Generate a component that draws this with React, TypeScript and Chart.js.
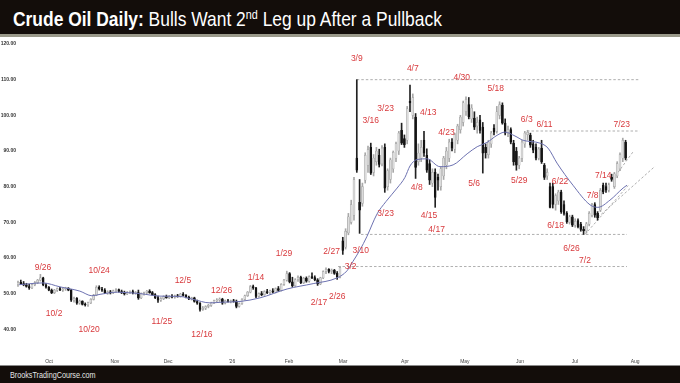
import React, { useEffect, useRef } from "react";
import { Chart, registerables } from "chart.js";
Chart.register(...registerables);

// ---- daily bars (trading-day index 0 = mid Sep 2025) ----
const opens = [52.5,53.2,52.8,52.5,52.0,51.6,52.5,53.1,53.8,54.4,52.5,51.8,51.0,50.3,51.0,51.4,51.0,51.3,51.5,51.0,
48.2,48.7,47.3,47.9,47.0,46.8,47.4,48.4,49.6,51.8,51.3,51.0,50.2,50.5,50.2,50.8,51.1,50.6,50.3,49.9,
50.4,50.6,50.1,50.3,48.8,50.0,50.3,50.7,50.3,49.7,48.9,48.2,48.6,49.2,48.9,49.3,49.0,49.4,49.2,49.9,
49.5,49.0,48.5,48.8,47.8,47.3,45.6,45.9,46.4,46.7,47.4,48.0,48.2,48.5,47.3,48.0,47.8,48.0,47.8,46.4,
47.2,48.4,49.4,50.4,52.0,51.6,49.2,50.0,49.7,50.6,50.3,50.8,50.4,51.4,50.9,52.6,53.8,55.6,53.3,52.2,
53.9,54.6,53.1,54.3,53.5,54.8,54.5,53.9,52.7,54.4,56.2,56.8,56.2,56.5,55.7,54.6,64.8,63.0,67.0,70.0,
72.0,88.0,75.6,75.3,81.8,86.0,91.0,84.0,87.0,88.8,86.4,91.0,80.0,82.0,85.0,88.0,90.0,95.8,93.5,93.0,
103.9,100.0,99.5,87.0,88.0,93.0,88.8,86.5,81.0,84.0,82.6,80.0,83.0,86.0,88.0,92.5,90.5,93.0,96.0,98.0,
101.0,103.0,99.0,99.2,97.0,98.7,96.7,91.0,89.0,92.0,96.4,95.5,100.0,102.9,97.8,95.0,96.0,92.2,90.0,86.0,
88.0,92.0,94.6,94.4,92.0,91.0,88.0,90.8,86.0,83.0,80.0,80.0,75.0,76.0,78.5,75.0,72.5,70.0,71.5,69.2,
70.5,69.5,68.0,67.6,69.5,72.0,75.0,72.5,73.4,80.4,80.0,79.0,82.6,80.0,83.0,85.0,88.0,92.5];
const highs = [53.5,53.8,53.4,52.9,52.6,52.8,53.4,54.0,55.4,54.6,52.8,52.0,51.3,51.2,51.6,51.8,51.5,51.8,51.7,51.2,
49.0,48.9,48.2,48.0,47.4,47.6,48.6,49.8,52.2,52.2,51.8,51.4,50.8,50.9,51.0,51.4,51.3,51.0,50.7,50.6,
50.8,51.0,50.6,51.0,50.2,50.4,50.9,51.1,50.6,50.0,49.3,48.9,49.4,49.6,49.5,49.7,49.6,49.8,50.1,50.3,
49.7,49.3,49.0,49.0,48.2,47.5,46.4,46.6,47.0,47.6,48.2,48.6,48.8,48.7,48.2,48.4,48.2,48.4,48.2,47.4,
48.6,49.6,50.6,52.3,52.4,51.8,50.2,50.6,50.8,51.2,51.0,51.4,51.6,52.0,52.8,54.0,56.3,55.9,54.6,54.2,
55.0,54.9,54.6,54.7,55.0,55.8,55.0,54.2,54.6,56.4,57.2,57.0,56.9,56.8,56.2,57.6,65.8,68.2,72.5,76.2,
82.6,110.0,82.0,81.0,89.5,91.4,92.2,89.0,91.0,90.5,91.5,92.0,85.0,88.0,90.0,92.5,95.5,97.8,94.5,102.5,
108.5,106.0,100.5,92.0,93.0,95.5,90.6,87.5,85.0,85.0,83.5,85.5,88.5,91.0,93.3,93.5,95.0,97.5,100.0,104.0,
105.2,105.0,103.0,101.0,99.5,100.0,98.0,92.0,93.0,95.5,97.4,102.5,103.8,103.5,99.0,97.0,96.5,93.0,91.0,88.5,
93.0,95.5,95.8,95.0,93.0,92.0,91.0,93.0,86.5,85.0,81.0,81.0,78.0,79.0,79.0,76.0,73.0,72.0,72.0,71.0,
71.0,70.0,68.8,70.0,73.0,75.3,75.5,73.0,79.5,81.0,81.0,81.0,83.5,84.0,87.0,89.5,93.6,93.0];
const lows = [52.0,52.6,52.2,51.8,51.2,51.4,52.2,52.8,53.5,52.2,51.5,50.8,50.0,50.0,50.6,50.8,50.6,50.9,50.8,47.8,
47.6,47.0,47.0,46.8,46.5,46.4,47.2,48.2,49.4,51.0,50.6,50.0,49.8,49.9,50.0,50.4,50.4,50.0,49.6,49.7,
50.0,49.9,49.8,48.4,48.6,49.6,50.0,50.1,49.5,48.6,47.5,47.8,48.3,48.7,48.6,48.8,48.7,49.0,49.0,49.3,
48.8,48.3,48.2,47.6,47.0,45.1,45.3,45.5,46.0,46.4,47.2,47.6,47.8,47.0,47.1,47.6,47.4,47.6,46.0,46.2,
47.0,48.2,49.2,50.2,51.2,48.9,49.0,49.4,49.5,50.0,49.8,50.2,50.2,50.6,50.7,52.3,53.5,53.0,51.8,52.0,
53.4,52.8,52.8,53.2,53.2,54.2,53.6,52.3,52.5,54.2,55.6,55.8,55.6,55.4,54.0,54.4,61.0,62.5,66.5,69.5,
70.6,84.0,66.9,74.5,81.0,84.0,83.4,83.0,86.0,85.5,85.8,78.4,79.0,81.0,84.0,87.0,89.0,91.8,91.0,92.0,
101.0,99.0,82.3,86.0,87.0,88.5,84.0,80.6,80.0,74.2,79.0,79.0,82.0,85.0,87.0,90.0,89.5,92.0,95.0,97.0,
100.0,99.0,98.0,96.0,95.0,95.0,83.8,88.0,88.0,91.0,94.5,95.0,99.0,97.5,94.5,94.0,92.0,86.0,84.6,85.0,
87.0,91.0,93.0,91.0,89.5,87.5,87.5,86.5,82.0,82.0,74.0,74.0,73.4,75.0,72.5,72.0,69.7,69.5,68.8,68.6,
68.4,67.5,66.6,67.0,69.0,71.5,71.4,70.6,73.0,78.0,78.4,78.5,81.5,79.5,82.5,84.5,87.0,87.5];
const closes = [53.2,52.8,52.5,52.0,51.6,52.5,53.1,53.8,54.4,52.5,51.8,51.0,50.3,51.0,51.4,51.0,51.3,51.5,51.0,48.2,
48.7,47.3,47.9,47.0,46.8,47.4,48.4,49.6,51.8,51.3,51.0,50.2,50.5,50.2,50.8,51.1,50.6,50.3,49.9,50.4,
50.6,50.1,50.3,48.8,50.0,50.3,50.7,50.3,49.7,48.9,48.2,48.6,49.2,48.9,49.3,49.0,49.4,49.2,49.9,49.5,
49.0,48.5,48.8,47.8,47.3,45.6,45.9,46.4,46.7,47.4,48.0,48.2,48.5,47.3,48.0,47.8,48.0,47.8,46.4,47.2,
48.4,49.4,50.4,52.0,51.6,49.2,50.0,49.7,50.6,50.3,50.8,50.4,51.4,50.9,52.6,53.8,55.6,53.3,52.2,53.9,
54.6,53.1,54.3,53.5,54.8,54.5,53.9,52.7,54.4,56.2,56.8,56.2,56.5,55.7,54.6,57.2,62.1,67.5,71.5,75.0,
82.0,84.6,73.4,80.0,88.8,90.4,83.8,88.0,90.0,86.2,90.8,79.6,84.5,87.5,89.6,92.0,95.0,92.2,91.8,101.8,
103.5,105.0,85.4,89.4,91.0,89.4,84.6,81.8,84.0,77.0,81.8,85.0,88.0,90.0,92.5,90.8,94.5,97.0,99.5,103.5,
104.5,99.6,102.0,96.7,98.0,95.8,89.4,89.5,92.5,95.0,95.3,101.0,103.0,97.8,95.0,96.0,92.5,86.9,86.0,88.0,
92.5,95.0,95.2,91.6,90.2,88.0,90.5,86.9,82.6,84.0,74.2,75.0,77.5,78.5,73.0,72.5,70.2,71.5,69.2,70.3,
68.8,68.0,67.6,69.6,72.5,75.0,72.0,71.2,79.0,78.5,79.0,80.5,82.0,83.6,86.5,89.0,93.0,88.0];

// ---- moving average line ----
const emaIdx = [0.4,8.9,15,22.1,26.4,29.3,35.4,43.6,50.7,57.9,62.5,68.6,72.9,79.3,86.4,96.1,105.4,113.9,117.5,119.6,
122.1,124.6,128.2,131.4,135.4,138.2,140,142.5,146.1,150.7,155.4,160.4,164,167.5,171.1,173.9,177.5,180.4,186.4,189.3,
192.5,198.2,204.3,207.1,211.4,216.1,217.5];
const emaVal = [52.5,53.0,51.9,50.7,49.4,49.8,50.4,50.0,49.3,49.2,48.4,47.4,47.6,47.8,48.8,51.3,52.8,54.4,56.4,59.0,
62.2,66.0,72.3,75.8,79.6,82.6,85.8,87.6,87.8,85.6,86.1,89.2,91.2,92.4,94.4,95.3,94.2,93.0,92.2,90.8,
86.6,80.4,74.9,74.2,76.2,79.6,80.4];

// ---- axis ticks ----
const monthTickIdx = [11.1,34.6,53.6,76.4,96.8,116.1,138.2,159.6,179.3,198.9,220.4];
const monthTickLabels = ["Oct","Nov","Dec","'26","Feb","Mar","Apr","May","Jun","Jul","Aug"];
const priceTicks = [40,50,60,70,80,90,100,110,120];

// ---- date annotations ----
const noteTexts = ["9/26","10/2","10/24","10/20","11/25","12/5","12/16","12/26","1/14","1/29","2/17","2/26","2/27","3/2","3/10",
"3/23","4/8","4/15","4/17","3/9","4/7","4/30","5/18","3/23","3/16","4/13","4/23","5/6","5/29","6/3","6/11","7/23","6/22","7/14","7/8","6/18","6/26","7/2"];
const noteIdx = [8.9,12.9,29,25.4,51.4,58.9,65.7,72.7,85,95,107.5,114,112,118.8,122.4,
131.3,142.4,146.8,149.5,121,141,158.5,170.6,131.3,126,146.5,153,162.9,179,181.7,188,215.6,193.6,209,205.2,192,197.7,202.5];
const notePrice = [57.4,44.5,56.5,40,42.2,53.7,38.5,50.9,54.6,61.3,47.6,49.2,61.9,57.6,62.1,
72.5,79.6,72,67.8,115.8,113.2,110.6,107.4,101.9,98.5,100.7,95.2,80.9,81.8,98.8,97.4,97.4,81.3,83.2,77.6,69,62.6,59.3];

// ---- horizontal dashed levels ----
const levelPrice = [110, 95.6, 66.6, 57.6];
const levelFrom = [121, 181.8, 122.5, 114.3];
const levelTo = [222, 222, 217.5, 217.5];

// ---- dashed trend lines ----
const trendFromIdx = [202.5, 207.1, 214.3];
const trendFromPrice = [66.6, 71.4, 84.0];
const trendToIdx = [217.9, 227.5, 219.6];
const trendToPrice = [80.3, 85.7, 89.7];

const FONT = '"Liberation Sans", Arial, Helvetica, sans-serif';

const notesPlugin = {
  id: "notes",
  afterDatasetsDraw(chart: any) {
    const { ctx, scales } = chart;
    const x = scales.x, y = scales.y;
    ctx.save();
    ctx.font = `8.5px ${FONT}`;
    ctx.fillStyle = "#d8393c";
    ctx.textAlign = "center";
    ctx.textBaseline = "middle";
    noteTexts.forEach((t, i) => {
      ctx.fillText(t, x.getPixelForValue(noteIdx[i]), y.getPixelForValue(notePrice[i]));
    });
    ctx.restore();
  },
};

export default function App() {
  const ref = useRef<HTMLCanvasElement | null>(null);

  useEffect(() => {
    if (!ref.current) return;
    const up = closes.map((c, i) => c >= opens[i]);
    const wickData = lows.map((l, i) => ({ x: i, y: [l, highs[i]] }));
    const bodyData = opens.map((o, i) => {
      const a = Math.min(o, closes[i]);
      const b = Math.max(o, closes[i]);
      return { x: i, y: [a, b] };
    });
    const datasets: any[] = [
      {
        type: "line",
        data: emaIdx.map((v, i) => ({ x: v, y: emaVal[i] })),
        borderColor: "#6c71b0",
        borderWidth: 1,
        pointRadius: 0,
        cubicInterpolationMode: "monotone",
        order: 0,
      },
      {
        type: "bar",
        data: bodyData,
        backgroundColor: up.map((u) => (u ? "#dcdcdc" : "#141414")),
        borderColor: up.map((u) => (u ? "#9a9a9a" : "#141414")),
        borderWidth: 0.5,
        borderSkipped: false,
        barThickness: 2,
        grouped: false,
        order: 1,
      },
      {
        type: "bar",
        data: wickData,
        backgroundColor: up.map((u) => (u ? "#a8a8a8" : "#222222")),
        barThickness: 1,
        grouped: false,
        order: 2,
      },
    ];
    levelPrice.forEach((p, i) => {
      datasets.push({
        type: "line",
        data: [
          { x: levelFrom[i], y: p },
          { x: levelTo[i], y: p },
        ],
        borderColor: "#9a9a9a",
        borderWidth: 0.8,
        borderDash: [2.5, 2],
        pointRadius: 0,
        order: 3,
      });
    });
    trendFromIdx.forEach((v, i) => {
      datasets.push({
        type: "line",
        data: [
          { x: v, y: trendFromPrice[i] },
          { x: trendToIdx[i], y: trendToPrice[i] },
        ],
        borderColor: "#9a9a9a",
        borderWidth: 0.8,
        borderDash: [2.5, 2],
        pointRadius: 0,
        order: 3,
      });
    });

    const chart = new Chart(ref.current, {
      type: "bar",
      data: { datasets },
      options: {
        animation: false,
        responsive: false,
        devicePixelRatio: 1,
        layout: { padding: 0 },
        plugins: { legend: { display: false }, tooltip: { enabled: false }, title: { display: false } },
        scales: {
          x: {
            type: "linear",
            min: -0.357,
            max: 236.43,
            offset: false,
            grid: { display: false, drawTicks: false },
            border: { display: false },
            ticks: {
              font: { size: 5, family: FONT },
              color: "#444",
              padding: 4,
              autoSkip: false,
              maxRotation: 0,
              callback: (_v: any, i: number) => monthTickLabels[i],
            },
            afterBuildTicks: (s: any) => {
              s.ticks = monthTickIdx.map((v) => ({ value: v }));
            },
            afterFit: (s: any) => {
              s.height = 10;
            },
          },
          y: {
            type: "linear",
            position: "left",
            min: 32.79,
            max: 120.84,
            grid: { display: false, drawTicks: false },
            border: { display: false },
            ticks: {
              font: { size: 5, family: FONT, weight: "bold" },
              color: "#333",
              padding: 1,
              callback: (v: any) => Number(v).toFixed(2),
            },
            afterBuildTicks: (s: any) => {
              s.ticks = priceTicks.map((v) => ({ value: v }));
            },
            afterFit: (s: any) => {
              s.width = 17;
            },
          },
        },
      } as any,
      plugins: [notesPlugin],
    });
    return () => chart.destroy();
  }, []);

  return (
    <div style={{ position: "fixed", left: 0, top: 0, width: 680, height: 383, background: "#fff", overflow: "hidden" }}>
      <div style={{ position: "absolute", left: 0, top: 37, width: 680, height: 328 }}>
        <canvas ref={ref} width={680} height={328} style={{ display: "block" }} />
      </div>
      <div style={{ position: "absolute", left: 0, top: 0, width: 680, height: 34, background: "#130d0a" }}>
        <div
          style={{
            position: "absolute",
            left: 13,
            top: 4,
            whiteSpace: "nowrap",
            color: "#ffffff",
            fontFamily: FONT,
            fontSize: 21,
            lineHeight: "30px",
            transform: "scaleX(0.83)",
            transformOrigin: "left top",
          }}
        >
          <b>Crude Oil Daily:</b> Bulls Want 2
          <sup style={{ fontSize: 13, verticalAlign: "7px", lineHeight: 0 }}>nd</sup> Leg up After a Pullback
        </div>
      </div>
      <div style={{ position: "absolute", left: 0, top: 34, width: 680, height: 3, background: "#9a998a" }} />
      <div style={{ position: "absolute", left: 0, top: 365, width: 680, height: 18, background: "#130d0a", borderTop: "1px solid #8a8a8a", boxSizing: "border-box" }}>
        <div
          style={{
            position: "absolute",
            left: 10,
            top: 0,
            whiteSpace: "nowrap",
            color: "#e6e6e6",
            fontFamily: FONT,
            fontSize: 9.5,
            lineHeight: "17px",
            transform: "scaleX(0.76)",
            transformOrigin: "left top",
          }}
        >
          BrooksTradingCourse.com
        </div>
      </div>
    </div>
  );
}
